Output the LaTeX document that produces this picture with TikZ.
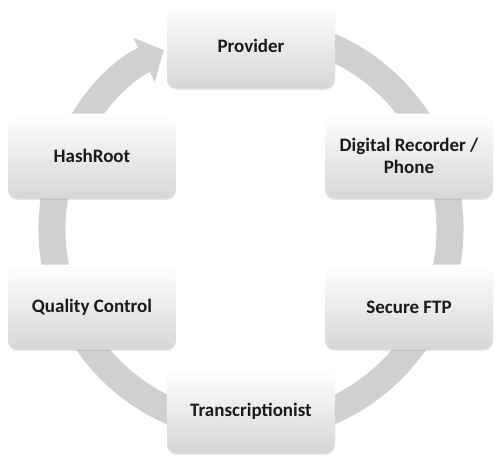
\documentclass[tikz,border=0pt]{standalone}
\usepackage{fontspec}
\setmainfont{Carlito}
\usetikzlibrary{arrows.meta}
\usetikzlibrary{calc}
\usetikzlibrary{shadows}
\definecolor{ringgray}{HTML}{D0D0D0}
\definecolor{boxtext}{HTML}{1A1A1A}
\tikzset{
  stagebox/.style={rounded corners=10pt, minimum width=168pt, minimum height=85pt,
    inner sep=0pt, align=center, text=boxtext, top color=white, bottom color=black!16,
    font=\fontsize{19}{22}\selectfont\bfseries,
    drop shadow={opacity=0.18, shadow xshift=0pt, shadow yshift=-1.5pt}},
  ring/.style={line width=27pt, color=ringgray, -{Triangle[length=22pt,width=48pt]}}
}

\begin{document}
\begin{tikzpicture}[x=1pt,y=1pt]
  \useasboundingbox (0,0) rectangle (500,459);

  \coordinate (hub) at (251,230);
  \draw[ring] ($(hub)+(78:199)$) arc[start angle=78, end angle=-244, radius=199];

  \node[stagebox](prov) at (251,413) {Provider};
  \node[stagebox](rec) at (409,303) {Digital Recorder /\\Phone};
  \node[stagebox](ftp) at (409,152) {Secure FTP};
  \node[stagebox](trans) at (251,48) {Transcriptionist};
  \node[stagebox](qc) at (92,152) {Quality Control};
  \node[stagebox](hash) at (92,303) {HashRoot};

\end{tikzpicture}
\end{document}
